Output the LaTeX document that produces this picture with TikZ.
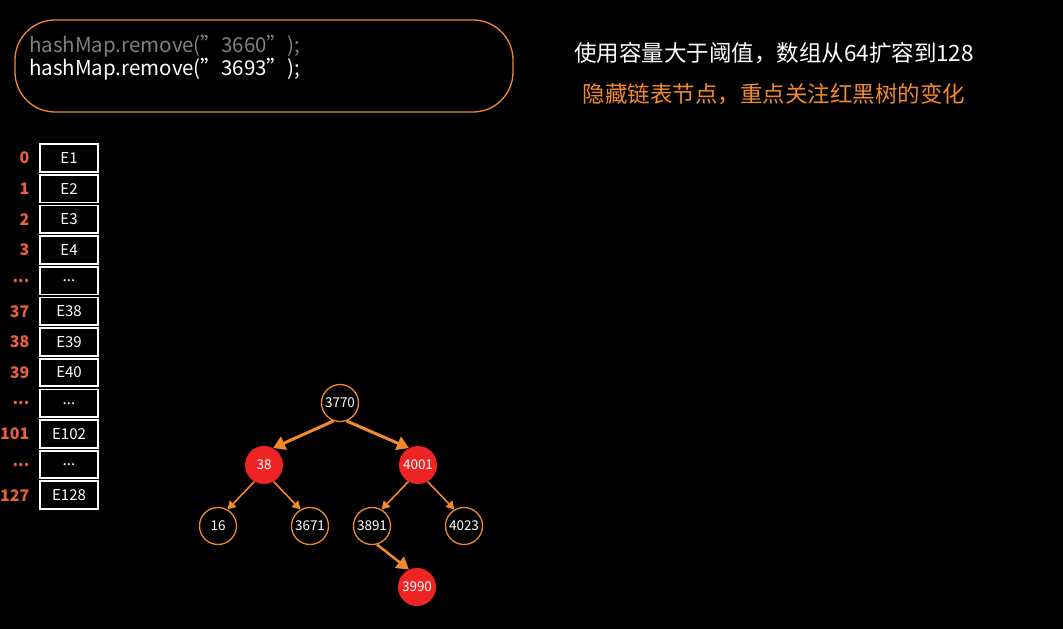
\documentclass[tikz,border=0pt]{standalone}
\usepackage{fontspec}
\setmainfont{Noto Sans CJK SC}
\usetikzlibrary{arrows.meta}
\definecolor{org}{HTML}{F08A2C}
\definecolor{idx}{HTML}{E8603C}
\definecolor{rd}{HTML}{EE2424}
\newcommand\mydts{...}
\newcommand\q{\char34\relax}
\begin{document}
\begin{tikzpicture}[x=1pt,y=-1pt,
 cell/.style={draw=white,line width=1.8pt,minimum width=58pt,minimum height=27.6pt,inner sep=0,text=white,font=\fontsize{15}{15}\selectfont},
 idxl/.style={anchor=east,text=idx,font=\bfseries\fontsize{16}{16}\selectfont},
 bk/.style={circle,draw=org,line width=1.3pt,minimum size=37pt,inner sep=0,text=white,font=\fontsize{13.5}{13.5}\selectfont},
 rn/.style={circle,fill=rd,minimum size=38pt,inner sep=0,text=white,font=\fontsize{13.5}{13.5}\selectfont},
 ed/.style={draw=org,line width=1.6pt,-{Triangle[length=8pt,width=9pt]}},
 edt/.style={draw=org,line width=3pt,-{Triangle[length=12pt,width=14pt]}}]
\fill[black] (0,0) rectangle (1063,629);
\useasboundingbox (0,0) rectangle (1063,629);
\draw[org,line width=1.3pt,rounded corners=40pt] (15,20) rectangle (513,112);
\node[anchor=north west,inner sep=0,align=left,font=\fontsize{20.5}{20.5}\selectfont] (code) at (29,35)
 {\textcolor{gray}{hashMap.remove(\q3660\q);}\\\textcolor{white}{hashMap.remove(\q3693\q);}};
\node[text=white,font=\fontsize{22.5}{22.5}\selectfont] (t1) at (774,53) {使用容量大于阈值，数组从64扩容到128};
\node[text=org,font=\fontsize{22.5}{22.5}\selectfont] (t2) at (774,94) {隐藏链表节点，重点关注红黑树的变化};
\foreach \i/\l/\v in {0/0/E1,1/1/E2,2/2/E3,3/3/E4,4/\mydts/\mydts,5/37/E38,6/38/E39,7/39/E40,8/\mydts/\mydts,9/101/E102,10/\mydts/\mydts,11/127/E128}{
 \node[cell] (c\i) at (69,158+30.65*\i) {\v};
 \node[idxl] (l\i) at (33,158+30.65*\i) {\l};
}
\node[bk] (n3770) at (340,403) {3770};
\node[rn] (n38) at (264,465) {38};
\node[rn] (n4001) at (418,465) {4001};
\node[bk] (n16) at (218,526) {16};
\node[bk] (n3671) at (310,526) {3671};
\node[bk] (n3891) at (372,526) {3891};
\node[bk] (n4023) at (464,526) {4023};
\node[rn] (n3990) at (417,587) {3990};
\draw[edt] (n3770.250) -- (n38.62);
\draw[edt] (n3770.290) -- (n4001.118);
\draw[ed] (n38.240) -- (n16.60);
\draw[ed] (n38.300) -- (n3671.120);
\draw[ed] (n4001.240) -- (n3891.60);
\draw[ed] (n4001.300) -- (n4023.120);
\draw[edt,line width=2.5pt] (n3891.285) -- (n3990.115);
\end{tikzpicture}
\end{document}
